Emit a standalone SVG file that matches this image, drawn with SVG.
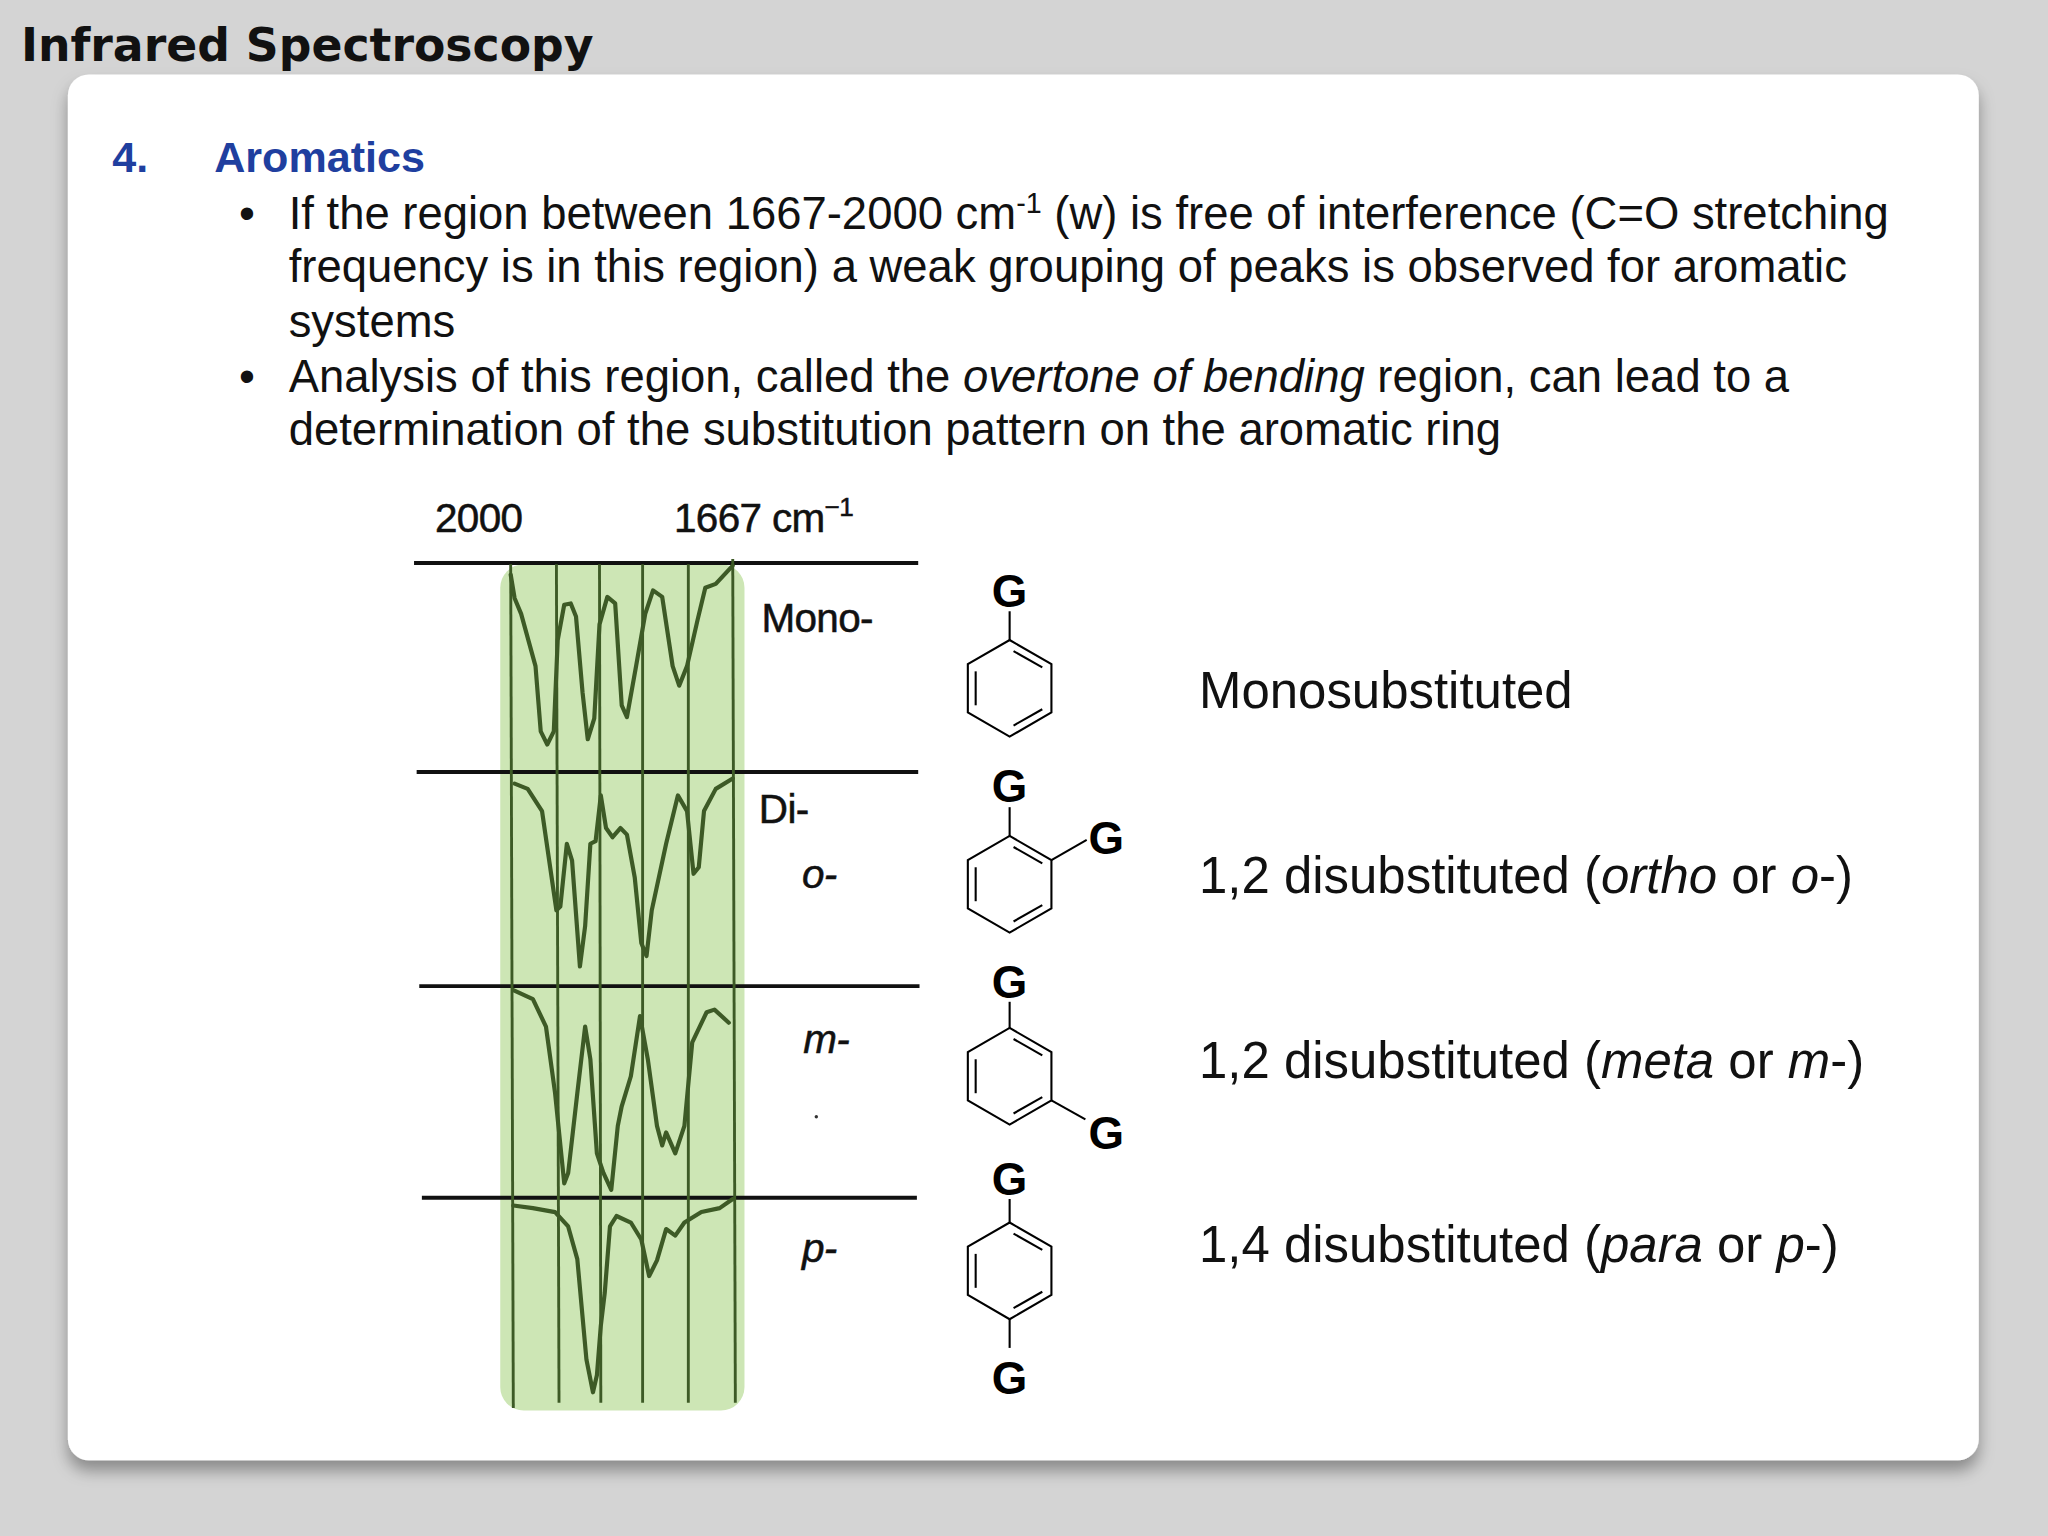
<svg xmlns="http://www.w3.org/2000/svg" width="2048" height="1536" viewBox="0 0 2048 1536">
<style>
.body{font-family:"Liberation Sans",Arial,sans-serif;font-size:34.8px;fill:#111}
.head{font-family:"Liberation Sans",Arial,sans-serif;font-size:33px;font-weight:bold;fill:#1f3f9f}
.axis{stroke:#111;stroke-width:3;fill:none}
.grid{stroke:#3d5a26;stroke-width:2.2;fill:none}
.trace{stroke:#3d5a26;stroke-width:3.2;fill:none;stroke-linejoin:round;stroke-linecap:round}
.lbl{font-family:"Liberation Sans",Arial,sans-serif;font-size:31px;fill:#111;stroke:#111;stroke-width:0.4;letter-spacing:-0.5px}
.g{font-family:"Liberation Sans",Arial,sans-serif;font-size:35px;font-weight:bold;fill:#000;text-anchor:middle}
.bond{stroke:#000;stroke-width:1.6;fill:none}
.big{font-family:"Liberation Sans",Arial,sans-serif;font-size:39px;fill:#111}
</style>
<defs>
<filter id="sh" x="-5%" y="-5%" width="110%" height="110%"><feDropShadow dx="0" dy="8" stdDeviation="6" flood-color="#000" flood-opacity="0.35"/></filter>
<g id="ring">
<polygon class="bond" points="0,-37 32,-18.5 32,18.5 0,37 -32,18.5 -32,-18.5"/>
<line class="bond" x1="3" y1="-28.5" x2="25" y2="-16"/>
<line class="bond" x1="25" y1="16" x2="3" y2="28.5"/>
<line class="bond" x1="-26" y1="13" x2="-26" y2="-13"/>
</g>
</defs>
<rect width="2048" height="1536" fill="#d4d4d4"/>
<g transform="scale(1.30612)">
<text x="16" y="47" style="font-family:'DejaVu Sans',Verdana,sans-serif;font-size:35px;font-weight:bold;fill:#111">Infrared Spectroscopy</text>
<rect id="card" x="52" y="57" width="1463" height="1061" rx="16" fill="#fff" filter="url(#sh)"/>
<g id="text">
<text class="head" x="86" y="132">4.</text>
<text class="head" x="164" y="132">Aromatics</text>
<text class="body" x="183" y="175">•</text>
<text class="body" x="221" y="175">If the region between 1667-2000 cm<tspan dy="-12" font-size="22">-1</tspan><tspan dy="12"> (w) is free of interference (C=O stretching</tspan></text>
<text class="body" x="221" y="216">frequency is in this region) a weak grouping of peaks is observed for aromatic</text>
<text class="body" x="221" y="258">systems</text>
<text class="body" x="183" y="300">•</text>
<text class="body" x="221" y="300">Analysis of this region, called the <tspan font-style="italic">overtone of bending</tspan> region, can lead to a</text>
<text class="body" x="221" y="341">determination of the substitution pattern on the aromatic ring</text>
</g>
<g id="spectrum">
<rect x="383" y="432" width="187" height="648" rx="18" fill="#cde6b5"/>
<text class="lbl" x="333" y="407">2000</text>
<text class="lbl" x="516" y="407">1667 cm<tspan dy="-12" font-size="20">−1</tspan></text>
<line class="axis" x1="317" y1="431" x2="703" y2="431"/>
<line class="axis" x1="319" y1="591" x2="703" y2="591"/>
<line class="axis" x1="321" y1="755" x2="704" y2="755"/>
<line class="axis" x1="323" y1="917" x2="702" y2="917"/>
<line class="grid" x1="391" y1="432" x2="393" y2="1078"/>
<line class="grid" x1="426" y1="432" x2="428" y2="1074"/>
<line class="grid" x1="459" y1="432" x2="460" y2="1074"/>
<line class="grid" x1="492" y1="432" x2="492" y2="1074"/>
<line class="grid" x1="527" y1="432" x2="527" y2="1074"/>
<line class="grid" x1="561" y1="428" x2="563" y2="1074"/>
<polyline class="trace" points="391,440 394,458 399,470 410,510 414,560 419,570 424,560 427,490 432,463 437,462 441,472 446,530 450,566 455,550 459,478 465,457 471,462 476,540 480,549 487,510 494,470 500,452 507,457 515,510 520,525 526,510 534,475 540,450 548,447 561,433"/>
<polyline class="trace" points="394,600 404,604 415,621 426,697 429,694 434,646 438,659 444,740 448,709 452,646 456,644 460,609 464,634 469,641 475,634 480,639 486,672 491,722 495,732 499,697 510,646 519,609 526,621 531,669 535,664 539,621 548,604 561,596"/>
<polyline class="trace" points="393,758 408,765 418,786 425,837 432,906 435,898 442,837 448,786 452,811 457,883 462,898 468,911 473,862 476,847 483,824 490,778 496,811 503,862 507,877 510,867 517,883 524,862 530,798 541,775 547,773 558,783"/>
<polyline class="trace" points="393,923 408,925 425,928 435,939 442,964 449,1041 454,1066 457,1053 460,1015 463,990 467,939 472,931 483,936 491,949 497,977 503,965 510,941 517,946 524,936 537,928 551,925 561,918"/>
<text class="lbl" x="583" y="484">Mono-</text>
<text class="lbl" x="581" y="630">Di-</text>
<text class="lbl" x="614" y="680" font-style="italic">o-</text>
<text class="lbl" x="615" y="806" font-style="italic">m-</text>
<circle cx="625" cy="855" r="1.3" fill="#333"/>
<text class="lbl" x="614" y="966" font-style="italic">p-</text>
</g>
<g id="mono">
<use href="#ring" x="773" y="527"/>
<line class="bond" x1="773" y1="490" x2="773" y2="468"/>
<text class="g" x="773" y="465">G</text>
<text class="big" x="918" y="542">Monosubstituted</text>
</g>
<g id="ortho">
<use href="#ring" x="773" y="677"/>
<line class="bond" x1="773" y1="640" x2="773" y2="618"/>
<line class="bond" x1="805" y1="658.5" x2="832" y2="643"/>
<text class="g" x="773" y="614">G</text>
<text class="g" x="847" y="654">G</text>
<text class="big" x="918" y="684">1,2 disubstituted (<tspan font-style="italic">ortho</tspan> or <tspan font-style="italic">o</tspan>-)</text>
</g>
<g id="meta">
<use href="#ring" x="773" y="824"/>
<line class="bond" x1="773" y1="787" x2="773" y2="767"/>
<line class="bond" x1="805" y1="842.5" x2="831" y2="857"/>
<text class="g" x="773" y="764">G</text>
<text class="g" x="847" y="880">G</text>
<text class="big" x="918" y="825">1,2 disubstituted (<tspan font-style="italic">meta</tspan> or <tspan font-style="italic">m</tspan>-)</text>
</g>
<g id="para">
<use href="#ring" x="773" y="973"/>
<line class="bond" x1="773" y1="936" x2="773" y2="918"/>
<line class="bond" x1="773" y1="1010" x2="773" y2="1032"/>
<text class="g" x="773" y="915">G</text>
<text class="g" x="773" y="1067">G</text>
<text class="big" x="918" y="966">1,4 disubstituted (<tspan font-style="italic">para</tspan> or <tspan font-style="italic">p</tspan>-)</text>
</g>
<g id="connectors"/>
</g>
</svg>
